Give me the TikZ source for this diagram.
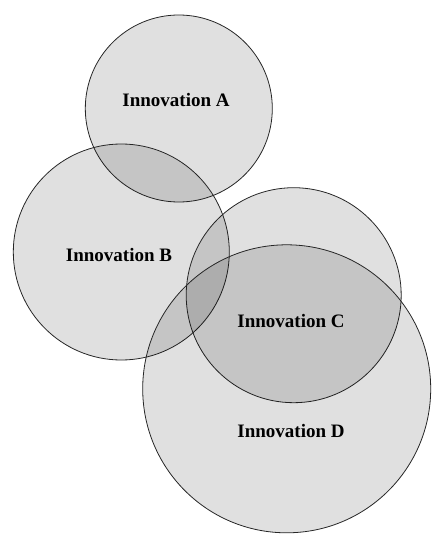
\documentclass[tikz,border=0pt]{standalone}
\usepackage{fontspec}
\setmainfont{Liberation Serif}
\usepackage{tikz}

\begin{document}
\begin{tikzpicture}[x=1pt, y=-1pt, every node/.style={font=\fontsize{19}{22}\selectfont\bfseries}]
    \useasboundingbox (0,0) rectangle (445,545);
    \tikzset{innov/.style={draw=black!85, line width=0.8pt, circle, fill=black, fill opacity=0.12, inner sep=0pt}}

    \node[innov, minimum size=187pt] (circA) at (178.8,108.5) {};
    \node[innov, minimum size=216pt] (circB) at (121.3,252) {};
    \node[innov, minimum size=215pt] (circC) at (293.7,295.2) {};
    \node[innov, minimum size=288pt] (circD) at (286.7,388.8) {};

    \node (labA) at (176,100.5) {Innovation A};
    \node (labB) at (119,255) {Innovation B};
    \node (labC) at (291,321) {Innovation C};
    \node (labD) at (291,431) {Innovation D};
\end{tikzpicture}
\end{document}
